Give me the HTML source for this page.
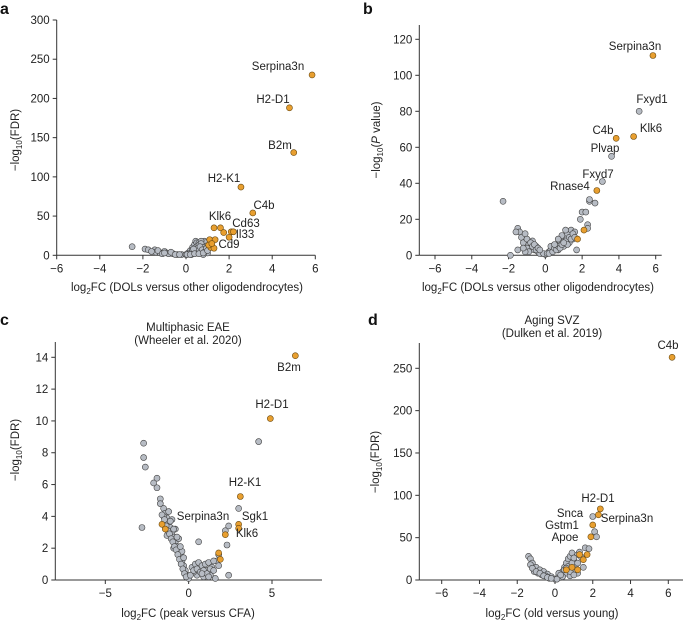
<!DOCTYPE html>
<html><head><meta charset="utf-8"><style>
html,body{margin:0;padding:0;background:#fff}
svg{display:block;font-family:"Liberation Sans",Arial,sans-serif}
</style></head><body>
<svg id="fig" width="685" height="621" viewBox="0 0 685 621"></svg>
<script>
// ---- Panel a data ----
const aGrayX=[-2.5,-1.9,-1.75,-1.45,-1.4,-1.2,-1.0,-0.9,-0.8,-0.6,-0.4,-0.2,0,0.1,0.2,0.3,0.4,0.45,0.5,0.55,0.6,0.7,0.8,0.85,0.9,0.95,0.75,0.65,0.35,0.5,0.9,1.0,-1.6,-1.3,-0.7,-1.1,0.15,0.25,0.8,0.6,0.7,0.4,0.5,0.6,0.7,0.8,0.9,0.45,0.55,0.65,0.75,0.85,0.3,0.35,0.95,-1.0,-0.5,-0.3,0.05,0.2,0.4,0.6,0.8,1.0];
const aGrayY=[11,8,7,7,4,3,5,3,2,2,1,1,1,3,6,10,14,18,16,12,8,10,14,18,16,12,5,3,4,6,6,3,5,6,4,2,2,1,1,16,18,9,11,13,15,10,8,7,9,11,7,4,7,8,9,3,1,1,1,1,2,2,3,6];
const aOrX=[5.85,4.8,5.0,2.55,3.1,1.3,1.6,1.75,2.1,2.2,2.0,1.1,1.35,1.15,1.3,1.05,1.2];
const aOrY=[230,188,131,87,54,35,35,29,30,30,23,20,20,10,9,13,15];
const aLabels=["Serpina3n","H2-D1","B2m","H2-K1","C4b","Klk6","Cd63","Il33","Cd9"];
const aYTicks=[0,50,100,150,200,250,300];
const aXTicks=[-6,-4,-2,0,2,4,6];
// ---- Panel b data ----
const bGrayX=[-2.3,-1.9,-1.5,-1.4,-1.6,-1.3,-1.2,-1.0,-0.9,-0.8,-0.6,-0.4,-0.2,0,0.2,0.4,0.6,0.8,1.0,1.2,1.4,1.6,1.0,1.3,0.7,1.5,1.7,1.9,2.0,2.2,2.4,2.4,2.7,2.3,2.3,3.1,3.6,5.1,-1.1,-0.7,1.1,-1.5,-0.5,0.3,0.9,-1.0,-0.9,-0.8,-0.7,-0.6,-0.5,-0.4,-0.3,-0.1,0.1,0.2,0.3,0.4,0.5,0.6,0.7,0.8,0.9,1.1,1.2,1.3,1.4,1.5,1.6,0.5,0.7,1.0,-1.1,-1.2,-0.3];
const bGrayY=[30,0,15,13,13,10,7,9,6,4,3,2,1,0.5,2,4,6,8,10,12,14,13,5,7,3,9,3,20,24,24,30,31,29,17,15,41,55,80,12,8,14,3,5,3,11,4,2,7,5,6,3,4,1,1,1,1,5,2,4,3,5,4,6,8,6,10,9,12,10,6,9,7,2,4,3];
const bOrX=[5.85,3.85,4.8,2.8,2.1,1.75];
const bOrY=[111,65,66,36,14,9];
const bYTicks=[0,20,40,60,80,100,120];
const bXTicks=[-6,-4,-2,0,2,4,6];
// ---- Panel c data ----
const cGrayX=[-2.7,-2.7,-2.6,-2.1,-1.9,-1.9,-2.8,-1.7,-1.7,-1.5,-1.4,-1.3,-1.2,-1.1,-1.0,-0.9,-0.8,-0.7,-0.6,-0.5,-0.4,-0.3,-0.2,-0.1,0,-1.2,-1.0,-0.8,-1.3,-0.6,-1.5,-0.9,-0.4,0.2,0.4,0.6,0.8,1.0,1.2,1.4,0.5,0.9,1.3,1.6,1.8,1.7,0.6,2.2,2.4,2.3,2.4,3.0,4.2,0.3,1.1,-1.6,-1.45,-1.35,-1.25,-1.15,-1.05,-0.95,-0.85,-0.75,-0.65,-0.55,-0.45,-0.35,-0.25,-0.15,-1.1,-0.9,-0.7,-0.5,-0.3,0.1,0.3,0.5,0.7,0.9,1.1,1.3,1.5,0.8,1.2,1.5,1.8];
const cGrayY=[8.6,7.7,7.1,6.1,6.4,5.8,3.3,5.1,4.8,4.5,4.2,3.9,3.6,3.3,3.0,2.7,2.4,2.1,1.8,1.5,1.2,0.9,0.6,0.3,0.1,4.3,3.8,3.2,2.8,2.6,4.0,2.0,1.8,0.8,1.0,1.1,0.9,1.0,1.1,0.8,0.3,0.2,0.3,0.1,1.6,1.2,2.4,3.1,3.4,2.2,0.3,4.5,8.7,0.5,0.6,4.1,3.8,3.4,3.1,2.9,2.6,2.4,2.1,1.9,1.6,1.3,1.0,0.7,0.4,0.2,3.7,3.2,2.7,2.1,1.4,0.3,0.6,0.7,0.5,0.6,0.4,0.7,1.2,0.4,0.2,0.6,0.9];
const cOrX=[6.4,4.9,3.1,3.0,3.0,2.2,1.8,1.9,-1.6,-1.4];
const cOrY=[14.1,10.15,5.25,3.5,3.25,2.85,1.7,1.3,3.5,3.2];
const cYTicks=[0,2,4,6,8,10,12,14];
const cXTicks=[-5,0,5];
// ---- Panel d data ----
const dGrayX=[-1.4,-1.3,-1.2,-1.0,-0.8,-0.6,-0.4,-0.2,0,-0.9,-0.5,-1.3,0.2,0.4,0.5,0.6,0.7,0.8,0.9,1.0,1.1,1.2,1.4,0.3,0.6,0.9,1.2,1.5,1.6,1.8,2.0,2.1,2.2,1.3,0.1,-0.3,0.8,-1.1,-0.7,-1.2,-1.0,-0.8,-0.6,-0.4,-0.2,0.2,0.4,0.5,0.7,0.9,1.0,1.1,0.3,0.6,0.8,1.0,1.2];
const dGrayY=[28,25,20,15,12,10,7,4,1,8,5,18,5,10,15,20,25,28,32,22,18,30,27,3,8,12,8,15,38,37,75,57,51,33,1,2,5,10,6,14,10,8,5,3,2,8,4,12,16,20,26,12,6,14,10,6,20];
const dOrX=[6.2,2.4,2.3,2.0,1.9,1.3,1.7,1.5,1.2,0.6,0.9];
const dOrY=[263,84,77,65,51,30,30,24,12,12,15];
const dYTicks=[0,50,100,150,200,250];
const dXTicks=[-6,-4,-2,0,2,4,6];

const NS="http://www.w3.org/2000/svg";
const svg=document.getElementById('fig');
function mk(tag,attrs,parent){const e=document.createElementNS(NS,tag);for(const k in attrs)e.setAttribute(k,attrs[k]);(parent||svg).appendChild(e);return e;}

function panel(p){
  const g=mk('g',{});
  
  
  const sx=v=>p.x0+(v-p.xmin)/(p.xmax-p.xmin)*(p.x1-p.x0);
  const sy=v=>p.y0-(v-p.ymin)/(p.ymax-p.ymin)*(p.y0-p.y1);
  const ya=mk('line',{x1:p.ax,y1:p.atop,x2:p.ax,y2:p.y0,stroke:'#333','stroke-width':1},g);
  
  
  const xa=mk('line',{x1:p.ax,y1:p.y0,x2:p.aright,y2:p.y0,stroke:'#333','stroke-width':1},g);
  
  
  p.yt.forEach(v=>{
    mk('line',{x1:p.ax-4,x2:p.ax,y1:sy(v),y2:sy(v),stroke:'#333'},g);
    const t=mk('text',{x:p.ax-7,y:sy(v)+4,'text-anchor':'end','font-size':11.5,fill:'#222'},g);
    t.textContent=String(v);
    
    
  });
  p.xt.forEach(v=>{
    mk('line',{x1:sx(v),x2:sx(v),y1:p.y0,y2:p.y0+4,stroke:'#333'},g);
    const t=mk('text',{x:sx(v),y:p.y0+17,'text-anchor':'middle','font-size':11.5,fill:'#222'},g);
    t.textContent=(v<0?'\u2212'+(-v):String(v));
    
    
  });
  p.gx.forEach((v,i)=>{
    const c=mk('circle',{cx:sx(v),cy:sy(p.gy[i]),r:3,fill:'#b7bcc4',stroke:'#444','stroke-width':0.6},g);
    
    
  });
  p.ox.forEach((v,i)=>{
    const c=mk('circle',{cx:sx(v),cy:sy(p.oy[i]),r:3,fill:'#e89f30',stroke:'#6b4a10','stroke-width':0.6},g);
    
    
  });
  p.labels.forEach(l=>{
    const t=mk('text',{x:l[1],y:l[2]+4,'text-anchor':'middle','font-size':11.5,fill:'#222'},g);
    t.textContent=l[0];
    
    
  });
  const L=mk('text',{x:p.lx,y:p.ly,'font-size':16,'font-weight':'bold',fill:'#111'},g);
  L.textContent=p.id;
  
  
  const xt=mk('text',{x:p.xtx,y:p.xty,'text-anchor':'middle','font-size':11.5,fill:'#222'},g);
  xt.innerHTML=p.xtitle;
  
  
  const yt=mk('text',{x:0,y:0,'text-anchor':'middle','font-size':11.5,fill:'#222',transform:`translate(${p.ytx},${p.yty}) rotate(-90)`},g);
  yt.innerHTML=p.ytitle;
  
  
  if(p.title){p.title.forEach((s,i)=>{
    const t=mk('text',{x:p.tx,y:p.ty+i*13,'text-anchor':'middle','font-size':11.5,fill:'#222'},g);
    t.textContent=s;
    
    
  });}
}
const sub='<tspan font-size="8" dy="3">2</tspan><tspan dy="-3">';
const fdr='\u2212log<tspan font-size="8" dy="3">10</tspan><tspan dy="-3">(FDR)</tspan>';
panel({id:'a',xmin:-6,xmax:6,ymin:0,ymax:300,x0:56.7,x1:315.3,y0:255.3,y1:20,ax:56.7,aright:315.3,atop:20,
  yt:aYTicks,xt:aXTicks,gx:aGrayX,gy:aGrayY,ox:aOrX,oy:aOrY,
  labels:[[aLabels[0],278,66],[aLabels[1],273,99],[aLabels[2],280,145],[aLabels[3],224,178],[aLabels[4],264,205],[aLabels[5],220,216],[aLabels[6],246,223],[aLabels[7],245,234],[aLabels[8],229,244]],
  lx:0,ly:14,xtx:187,xty:291,xtitle:'log'+sub+'FC (DOLs versus other oligodendrocytes)</tspan>',ytx:19,yty:140,ytitle:fdr});
panel({id:'b',xmin:-6,xmax:6,ymin:0,ymax:120,x0:435,x1:655.7,y0:255.3,y1:39.3,ax:419.3,aright:661.7,atop:25,
  yt:bYTicks,xt:bXTicks,gx:bGrayX,gy:bGrayY,ox:bOrX,oy:bOrY,
  labels:[['Serpina3n',635,46],['Fxyd1',652,99],['Klk6',651,128],['C4b',603,130],['Plvap',605,148],['Fxyd7',598,174],['Rnase4',570,186]],
  lx:363,ly:14,xtx:538,xty:291,xtitle:'log'+sub+'FC (DOLs versus other oligodendrocytes)</tspan>',ytx:380,yty:140,
  ytitle:'\u2212log<tspan font-size="8" dy="3">10</tspan><tspan dy="-3">(</tspan><tspan font-style="italic">P</tspan><tspan> value)</tspan>'});
panel({id:'c',xmin:-8,xmax:8,ymin:0,ymax:14,x0:55.3,x1:322,y0:580,y1:357.3,ax:55.3,aright:322,atop:342,
  yt:cYTicks,xt:cXTicks,gx:cGrayX,gy:cGrayY,ox:cOrX,oy:cOrY,
  labels:[['B2m',289,367],['H2-D1',272,404],['H2-K1',245,482],['Sgk1',255,516],['Serpina3n',203,516],['Klk6',247,533]],
  lx:0,ly:325,xtx:188,xty:617,xtitle:'log'+sub+'FC (peak versus CFA)</tspan>',ytx:19,yty:450,ytitle:fdr,
  title:['Multiphasic EAE','(Wheeler et al. 2020)'],tx:188,ty:331});
panel({id:'d',xmin:-6,xmax:6,ymin:0,ymax:250,x0:441.7,x1:668.3,y0:580,y1:368.3,ax:419.3,aright:683,atop:343,
  yt:dYTicks,xt:dXTicks,gx:dGrayX,gy:dGrayY,ox:dOrX,oy:dOrY,
  labels:[['C4b',668,345],['H2-D1',598,498],['Snca',570,513],['Serpina3n',627,518],['Gstm1',562,525],['Apoe',565,537]],
  lx:368,ly:325,xtx:552,xty:617,xtitle:'log'+sub+'FC (old versus young)</tspan>',ytx:379,yty:462,ytitle:fdr,
  title:['Aging SVZ','(Dulken et al. 2019)'],tx:552,ty:324});
</script>
</body></html>
